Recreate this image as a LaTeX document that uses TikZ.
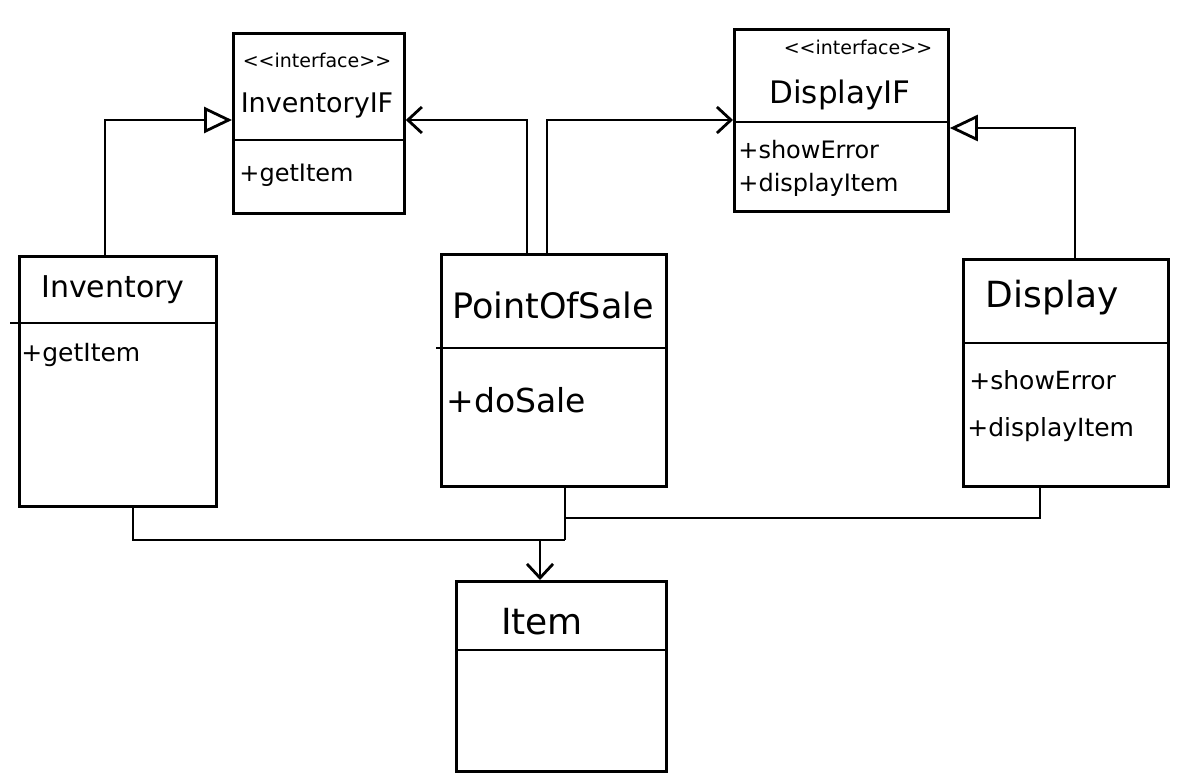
\documentclass[tikz,border=0pt]{standalone}
\usepackage{fontspec}
\setmainfont{DejaVu Sans}[Ligatures=NoCommon]
\usetikzlibrary{arrows.meta}
\tikzset{every path/.append style={line width=2.8pt}}
\begin{document}
\begin{tikzpicture}[x=1pt,y=-1pt,
 cls/.style={draw,rectangle},
 txt/.style={inner sep=0pt},
 real/.style={-{Triangle[open,length=28pt,width=26pt,line width=2.8pt]}},
 assoc/.style={-{Straight Barb[length=14pt,width=26pt,line width=2.8pt]}}]
\useasboundingbox (0,0) rectangle (1200,782);
% boxes
\node[cls,minimum width=171pt,minimum height=180pt,anchor=north west] (iif) at (232,32) {};
\draw (232,140) -- (403,140);
\node[txt,font=\fontsize{19}{19}\selectfont] (iif1) at (317,60) {{<}{<}interface{>}{>}};
\node[txt,font=\fontsize{27}{27}\selectfont] (iif2) at (317,105) {InventoryIF};
\node[txt,font=\fontsize{24}{24}\selectfont,anchor=west] (iif3) at (238,175) {+getItem};

\node[cls,minimum width=214pt,minimum height=182pt,anchor=north west] (dif) at (733,28) {};
\draw (733,122) -- (947,122);
\node[txt,font=\fontsize{19}{19}\selectfont] (dif1) at (858,47) {{<}{<}interface{>}{>}};
\node[txt,font=\fontsize{31}{31}\selectfont] (dif2) at (840,95) {DisplayIF};
\node[txt,font=\fontsize{24}{24}\selectfont,anchor=west] (dif3) at (737,150) {+showError};
\node[txt,font=\fontsize{24}{24}\selectfont,anchor=west] (dif4) at (737,185) {+displayItem};

\node[cls,minimum width=197pt,minimum height=250pt,anchor=north west] (inv) at (18,255) {};
\draw (10,323) -- (215,323);
\node[txt,font=\fontsize{30}{30}\selectfont] (inv1) at (113,290) {Inventory};
\node[txt,font=\fontsize{25}{25}\selectfont,anchor=west] (inv2) at (20,355) {+getItem};

\node[cls,minimum width=225pt,minimum height=232pt,anchor=north west] (pos) at (440,253) {};
\draw (436,348) -- (665,348);
\node[txt,font=\fontsize{35}{35}\selectfont] (pos1) at (553,305) {PointOfSale};
\node[txt,font=\fontsize{33}{33}\selectfont,anchor=west] (pos2) at (445,400) {+doSale};

\node[cls,minimum width=205pt,minimum height=227pt,anchor=north west] (dsp) at (962,258) {};
\draw (962,343) -- (1167,343);
\node[txt,font=\fontsize{36}{36}\selectfont] (dsp1) at (1052,298) {Display};
\node[txt,font=\fontsize{25}{25}\selectfont,anchor=west] (dsp2) at (968,380) {+showError};
\node[txt,font=\fontsize{25}{25}\selectfont,anchor=west] (dsp3) at (966,430) {+displayItem};

\node[cls,minimum width=210pt,minimum height=190pt,anchor=north west] (itm) at (455,580) {};
\draw (455,650) -- (665,650);
\node[txt,font=\fontsize{36}{36}\selectfont] (itm1) at (542,622) {Item};

% connectors
\draw[real] (inv.north -| 105,0) |- (iif.west |- 0,120);
\draw[assoc] (pos.north -| 527,0) |- (iif.east |- 0,120);
\draw[assoc] (pos.north -| 547,0) |- (dif.west |- 0,120);
\draw[real] (dsp.north -| 1075,0) |- (dif.east |- 0,128);
\coordinate (bus) at (540,540);
\coordinate (bus2) at (565,540);
\draw (inv.south -| 133,0) |- (bus2);
\draw (pos.south -| 565,0) -- (bus2);
\draw (dsp.south -| 1040,0) |- (565,518);
\draw[assoc] (bus) -- (itm.north -| bus);
\end{tikzpicture}
\end{document}
